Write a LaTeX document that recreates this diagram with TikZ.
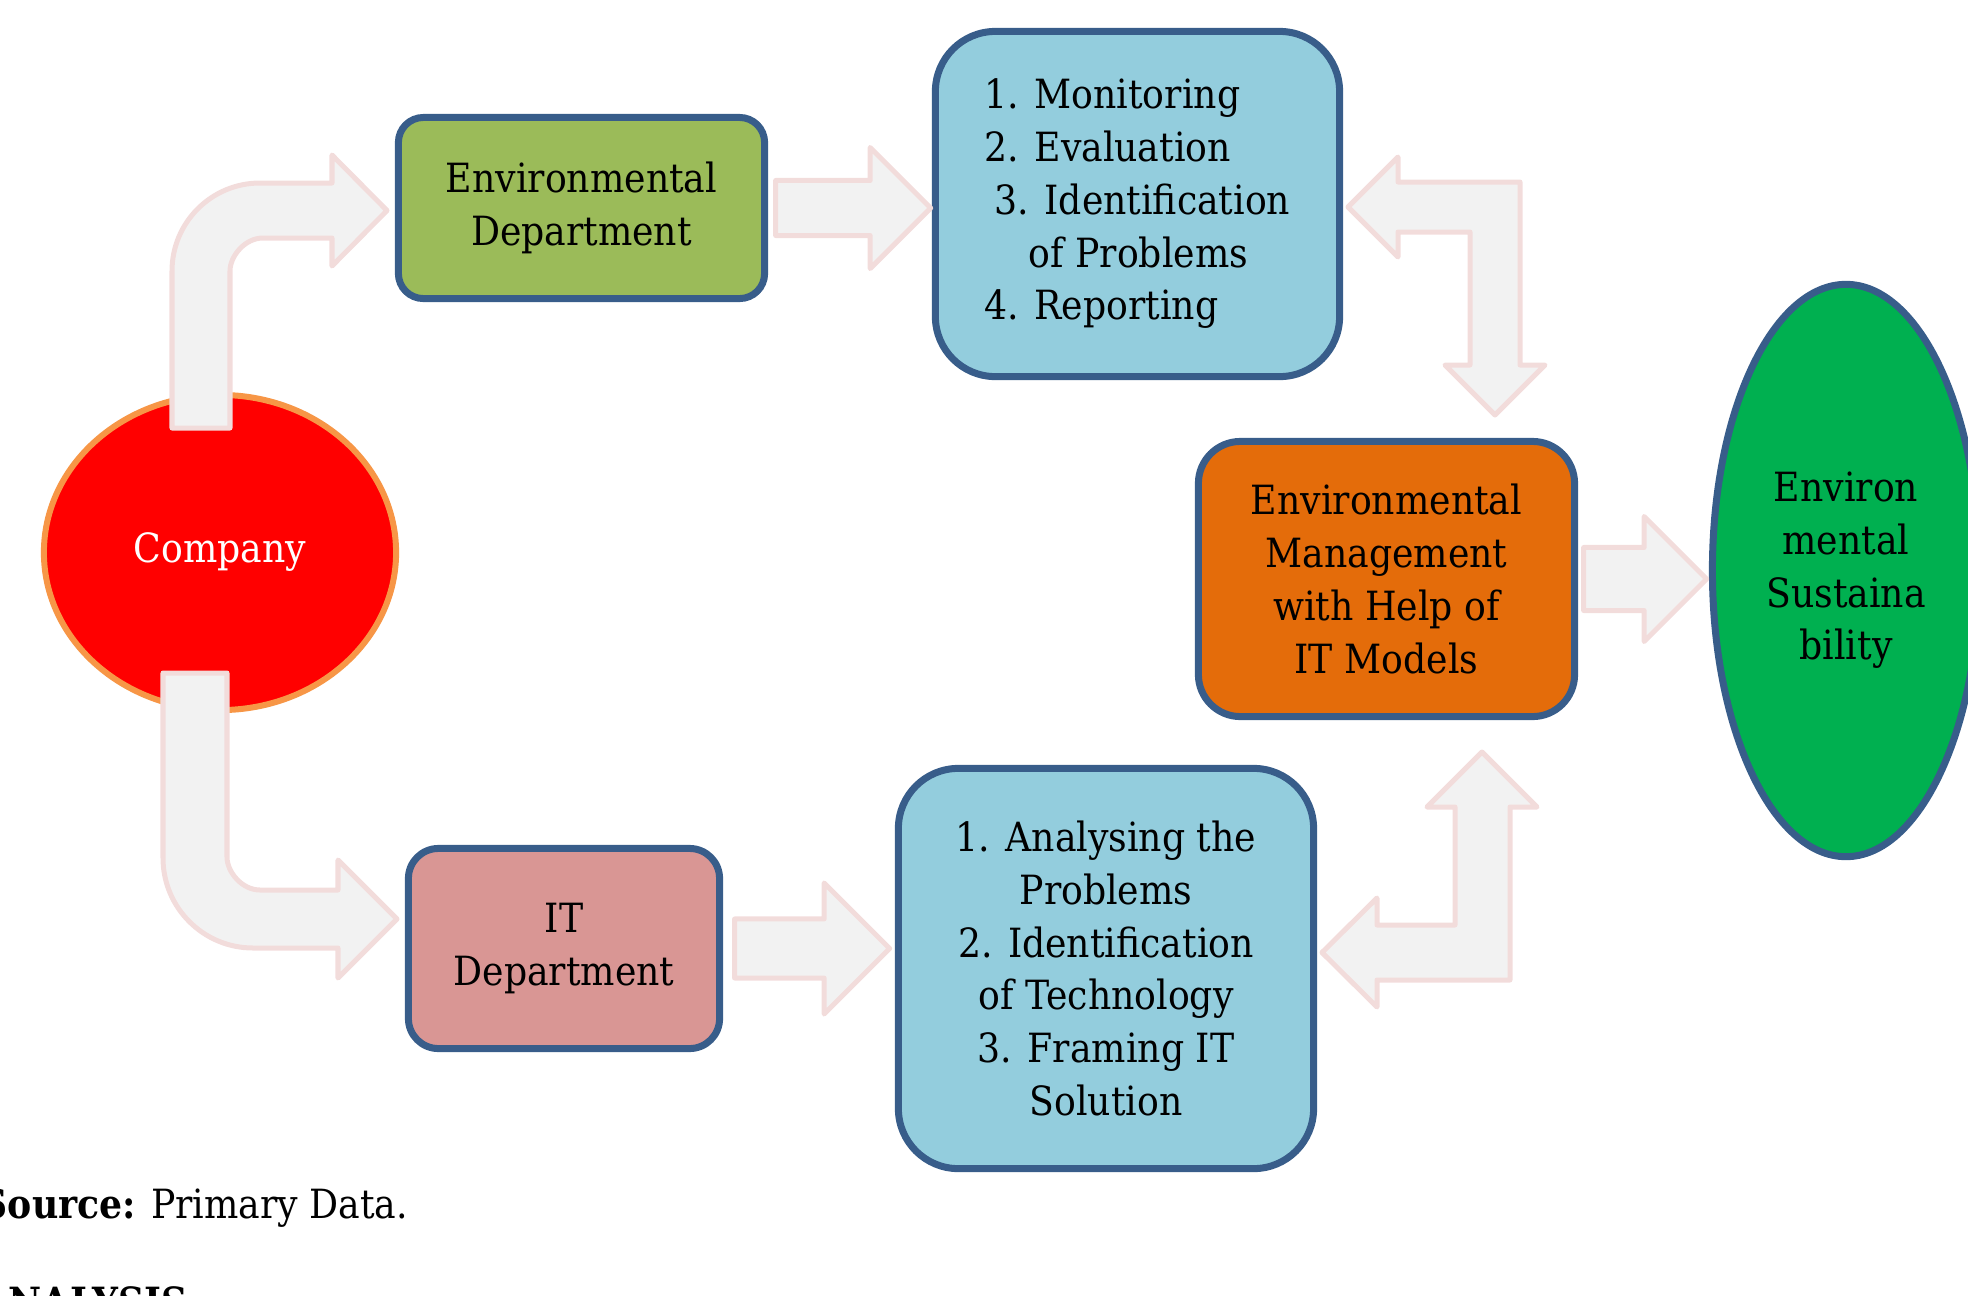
\documentclass[tikz,border=0pt]{standalone}
\usepackage{fontspec}
\setmainfont{DejaVuSerifCondensed.ttf}[BoldFont = DejaVuSerifCondensed-Bold.ttf]
\usepackage{xcolor}
\usetikzlibrary{shapes.geometric, shapes.arrows, calc, positioning}
\definecolor{frameblue}{HTML}{385D8A}
\definecolor{envgreen}{HTML}{9BBB59}
\definecolor{stepblue}{HTML}{93CDDD}
\definecolor{mgmtorange}{HTML}{E46C0A}
\definecolor{itpink}{HTML}{D99694}
\definecolor{companyorange}{HTML}{F79646}
\definecolor{sustgreen}{HTML}{00B050}
\definecolor{arrowpink}{HTML}{F2DCDB}
\definecolor{arrowgrey}{HTML}{F2F2F2}
\newcommand{\diagfont}{\fontsize{11.45}{15}\selectfont}
\tikzset{blockarrow/.style = { draw = arrowpink, fill = arrowgrey, line width = 0.05cm, line join = round }}

\begin{document}
\begin{tikzpicture}[x = 0.01cm, y = -0.01cm,
		box/.style = { draw = frameblue, line width = 0.07cm, rounded corners = #1, align = center, font = \diagfont },
		straight/.style = { blockarrow, single arrow, single arrow tip angle = 90, inner xsep = 0pt, anchor = tail }]
		\useasboundingbox (0, 0) rectangle (1968, 1296);

		\node [ellipse, draw = companyorange, fill = red, line width = 0.06cm, minimum width = 3.52cm, minimum height = 3.15cm, text = white, font = \diagfont] (company) at (220, 552.5) {Company};
		\node [box = 0.25cm, fill = envgreen, minimum width = 3.66cm, minimum height = 1.81cm] (envdep) at (581.5, 208) {Environmental\\Department};
		\node [box = 0.6cm, fill = stepblue, minimum width = 4.04cm, minimum height = 3.45cm, align = left] (monitor) at (1137.5, 204) {1. Monitoring\\2. Evaluation\\\hspace*{0.1cm}3. Identification\\\hspace*{0.44cm}of Problems\\4. Reporting};
		\node [box = 0.42cm, fill = mgmtorange, minimum width = 3.76cm, minimum height = 2.75cm] (envmgmt) at (1386.5, 579) {Environmental\\Management\\with Help of\\IT Models};
		\node [box = 0.3cm, fill = itpink, minimum width = 3.11cm, minimum height = 2cm] (itdep) at (564, 948.5) {IT\\Department};
		\node [box = 0.6cm, fill = stepblue, minimum width = 4.15cm, minimum height = 4cm] (solution) at (1106, 968.5) {1. Analysing the\\Problems\\2. Identification\\of Technology\\3. Framing IT\\Solution};
		\node [ellipse, draw = frameblue, fill = sustgreen, line width = 0.07cm, minimum width = 2.67cm, minimum height = 5.72cm, align = center, font = \diagfont] (sustain) at (1846, 570.5) {Environ\\mental\\Sustaina\\bility};

		\node [straight, minimum height = 1.55cm, inner ysep = 0.25cm, single arrow head extend = 0.33cm] (envarrow) at ($(envdep.east) + (5, 0)$) {};
		\node [straight, minimum height = 1.55cm, inner ysep = 0.27cm, single arrow head extend = 0.36cm] (itarrow) at ($(itdep.east) + (9, 0)$) {};
		\node [straight, minimum height = 1.23cm, inner ysep = 0.29cm, single arrow head extend = 0.31cm] (sustarrow) at ($(envmgmt.east) + (3, 0)$) {};

		\draw [blockarrow] (172, 428) -- (172, 271) .. controls (172, 222.4) and (211.4, 183) .. (260, 183) -- (332, 183) -- (332, 155) -- (387, 210.5) -- (332, 266) -- (332, 238) -- (263, 238) .. controls (244.8, 238) and (230, 256.2) .. (230, 271) -- (230, 428) -- cycle;
		\draw [blockarrow] (163, 673) -- (163, 858) .. controls (163, 907.7) and (203.3, 948) .. (253, 948) -- (338, 948) -- (338, 978) -- (397, 919) -- (338, 860) -- (338, 890) -- (260, 890) .. controls (241.8, 890) and (227, 871.8) .. (227, 857) -- (227, 673) -- cycle;
		\draw [blockarrow] (1520, 182) -- (1520, 365) -- (1545, 365) -- (1495, 415) -- (1445, 365) -- (1470, 365) -- (1470, 232) -- (1398, 232) -- (1398, 257) -- (1348, 207) -- (1398, 157) -- (1398, 182) -- cycle;
		\draw [blockarrow] (1510, 980) -- (1510, 807) -- (1537, 807) -- (1482, 752) -- (1427, 807) -- (1455, 807) -- (1455, 925) -- (1377, 925) -- (1377, 898) -- (1322, 952.5) -- (1377, 1007) -- (1377, 980) -- cycle;

		\node [anchor = base west, inner sep = 0pt, font = \diagfont] (source) at (-19, 1218) {\textbf{Source:} Primary Data.};
		\node [anchor = base west, inner sep = 0pt, font = \diagfont\bfseries] (analysis) at (-20, 1316) {ANALYSIS};
	\end{tikzpicture}
\end{document}
